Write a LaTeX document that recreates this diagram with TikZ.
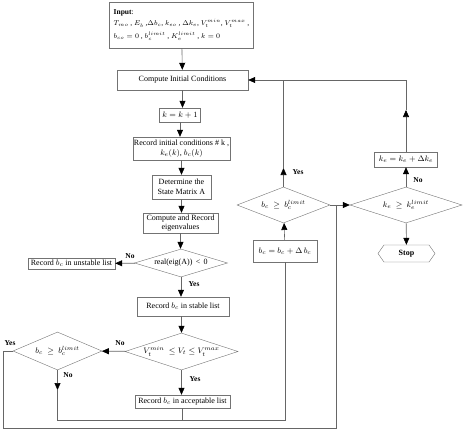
\documentclass[tikz,border=0pt]{standalone}
\usepackage{fontspec}
\setmainfont{Liberation Serif}
\usetikzlibrary{arrows.meta,shapes.geometric,shapes.symbols}

\tikzset{
  box/.style={draw=black!55, fill=white, inner sep=1pt, align=center,
    font=\fontsize{8}{9.5}\selectfont},
  dec/.style={draw=black!55, diamond, inner sep=0pt},
  flow/.style={draw=black!60, line width=0.6pt},
  arr/.style={flow, -{Triangle[length=7pt,width=6pt,color=black]}},
  yn/.style={font=\fontsize{7.5}{9}\selectfont\bfseries, inner sep=1pt},
  every label/.style={font=\fontsize{8}{9.5}\selectfont, inner sep=0pt},
}

\begin{document}
\begin{tikzpicture}[x=1pt,y=-1pt]
  \useasboundingbox (0,0) rectangle (474,439);

  % main column
  \node[box, minimum width=137, minimum height=46, align=left, inner xsep=4pt, inner ysep=0pt,
    font=\fontsize{7.5}{8.5}\selectfont] (input) at (181.5,25)
    {\textbf{Input}:\\[3pt]
     $T_{mo}$ , $E_b$ ,$\Delta b_c$, $k_{eo}$ , $\Delta k_e$, $V_t^{min}$, $V_t^{max}$ ,\\[4pt]
     $b_{co}=0$ , $b_c^{limit}$ , $K_e^{limit}$ , $k=0$};
  \node[box, minimum width=131, minimum height=20] (init) at (182.5,80) {Compute Initial Conditions};
  \node[box, minimum width=41, minimum height=14] (kinc) at (180,115) {$k=k+1$};
  \node[box, minimum width=97, minimum height=23] (recinit) at (181.5,148.5)
    {Record initial conditions \# k ,\\ $k_e(k)$, $b_c(k)$};
  \node[box, minimum width=59, minimum height=24] (statemat) at (181.5,187) {Determine the\\ State Matrix A};
  \node[box, minimum width=75, minimum height=20] (eig) at (180.5,223) {Compute and Record\\ eigenvalues};
  \node[dec, minimum width=93, minimum height=28, label=center:{real(eig(A)) \,<\, 0}] (stab) at (181,263) {};
  \node[box, minimum width=87, minimum height=11] (unstable) at (71.5,263.5) {Record $b_c$ in unstable list};
  \node[box, minimum width=92, minimum height=19] (stable) at (183,306.5) {Record $b_c$ in stable list};
  \node[dec, minimum width=113, minimum height=37,
    label=center:{$V_t^{min}\ \le V_t \le V_t^{max}$}] (vt) at (181.5,351.5) {};
  \node[dec, minimum width=89, minimum height=38,
    label=center:{$b_c\ \ge\ b_c^{limit}$}] (bclimA) at (57.5,351) {};
  \node[box, minimum width=95, minimum height=13] (accept) at (182.5,401.5) {Record $b_c$ in acceptable list};

  % right part
  \node[box, minimum width=64, minimum height=22] (bcinc) at (285,251) {$b_c = b_c + \Delta\, b_c$};
  \node[dec, minimum width=93, minimum height=36,
    label=center:{$b_c\ \ge\ b_c^{limit}$}] (bclimB) at (283.5,205) {};
  \node[dec, minimum width=112, minimum height=36,
    label=center:{$k_e\ \ge\ k_e^{limit}$}] (kelim) at (406,205) {};
  \node[box, minimum width=63, minimum height=15] (keinc) at (406,159.5) {$k_e = k_e + \Delta k_e$};
  \node[draw=black!55, signal, signal to=west and east, signal pointer angle=110,
    minimum width=57, minimum height=17, inner sep=0pt,
    font=\fontsize{8}{9.5}\selectfont\bfseries] (stop) at (406.5,253.5) {Stop};

  % helper points
  \coordinate (yesB) at (283.5,168);
  \coordinate (topB) at (283.5,80);
  \coordinate (keup) at (406,110);
  \coordinate (topK) at (406,80);
  \coordinate (noA) at (57.5,390);
  \coordinate (lowL) at (57.5,420);
  \coordinate (lowR) at (285,420);
  \coordinate (yesA) at (3,351);
  \coordinate (outL) at (3,428);
  \coordinate (outR) at (336,428);
  \coordinate (joinK) at (336,205);

  % connectors
  \draw[arr] (input) -- (init);
  \draw[arr] (init) -- (init |- kinc.north);
  \draw[arr] (kinc) -- (kinc |- recinit.north);
  \draw[arr] (recinit) -- (recinit |- statemat.north);
  \draw[arr] (statemat) -- (statemat |- eig.north);
  \draw[arr] (eig) -- (eig |- stab.north);
  \draw[arr] (stab) -- (unstable);
  \draw[arr] (stab) -- (stab |- stable.north);
  \draw[arr] (stable.south -| vt) -- (vt);
  \draw[arr] (vt) -- (bclimA);
  \draw[arr] (vt) -- (vt |- accept.north);
  \draw[arr] (bclimA) -- (noA);
  \draw[flow] (noA) -- (lowL) -- (lowR) -- (bcinc);
  \draw[flow] (accept.south) -- (accept.south |- lowL);
  \draw[arr] (bcinc) -- (bclimB);
  \draw[arr] (bclimB) -- (yesB);
  \draw[flow] (yesB) -- (topB);
  \draw[arr] (topK) -- (init);
  \draw[arr] (bclimB) -- (kelim);
  \draw[flow] (bclimA.west) -- (yesA) -- (outL) -- (outR) -- (joinK);
  \draw[arr] (kelim) -- (keinc);
  \draw[arr] (keinc) -- (keup);
  \draw[flow] (keup) -- (topK);
  \draw[arr] (kelim) -- (stop);

  % branch labels
  \node[yn] (nostab) at (130,256) {No};
  \node[yn] (yesstab) at (194,284) {Yes};
  \node[yn] (novt) at (120,343) {No};
  \node[yn] (yesvt) at (195,379) {Yes};
  \node[yn] (yesbcA) at (10,343) {Yes};
  \node[yn] (nobcA) at (68,375) {No};
  \node[yn] (yesbcB) at (298,172) {Yes};
  \node[yn] (noke) at (418,180) {No};
\end{tikzpicture}
\end{document}
